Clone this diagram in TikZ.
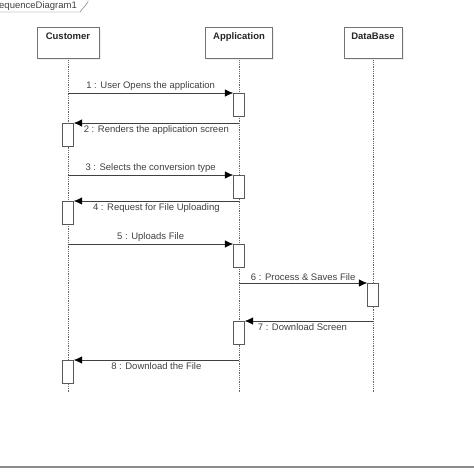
\documentclass[tikz,border=0pt]{standalone}
\usepackage{fontspec}
\setmainfont{Liberation Sans}
\usetikzlibrary{shadows,arrows.meta}
\begin{document}
\begin{tikzpicture}[x=1pt,y=-1pt,>={Latex[length=8.5pt,width=7.5pt,black]},
  actor/.style={draw=black!55,fill=white,font=\fontsize{9.5}{11}\selectfont\bfseries,text=black!85,
    inner xsep=2pt,inner ysep=5pt,text height=7pt,text depth=14pt,anchor=north,
    drop shadow={shadow xshift=1.5pt,shadow yshift=-1.5pt,fill=black!12}},
  lifeline/.style={densely dotted,draw=black!60,thick},
  act/.style={draw=black!65,fill=white,minimum width=11pt,minimum height=23pt,inner sep=0pt,anchor=north},
  msg/.style={->,draw=black!75,line width=0.6pt},
  lbl/.style={font=\fontsize{9.5}{11}\selectfont,text=black!75,inner sep=2.5pt}]
\useasboundingbox (0,0) rectangle (474,474);
\coordinate (F1) at (0,12);
\coordinate (F2) at (80,12);
\coordinate (F3) at (88,2);
\coordinate (F4) at (88,0);
\coordinate (B1) at (0,467);
\coordinate (B2) at (474,467);
\node[anchor=base west,inner sep=0pt,font=\fontsize{9.5}{11}\selectfont,text=black!75] (title) at (-1,8.5) {equenceDiagram1};
\draw[black!60] (F1) -- (F2) -- (F3) -- (F4);
\draw[black!45,line width=1.5pt] (B1) -- (B2);
\node[actor,minimum width=62pt] (cust) at (68,27) {Customer};
\node[actor,minimum width=67pt] (app) at (239,27) {Application};
\node[actor,minimum width=58pt] (db) at (373,27) {DataBase};
\coordinate (custEnd) at (68,392);
\coordinate (appEnd) at (239,392);
\coordinate (dbEnd) at (373,392);
\draw[lifeline] (cust.south) -- (custEnd);
\draw[lifeline] (app.south) -- (appEnd);
\draw[lifeline] (db.south) -- (dbEnd);
\node[act] (a1) at (239,93) {};
\node[act] (a2) at (68,123) {};
\node[act] (a3) at (239,175) {};
\node[act] (a4) at (68,201) {};
\node[act] (a5) at (239,244) {};
\node[act] (a6) at (373,283) {};
\node[act] (a7) at (239,321) {};
\node[act] (a8) at (68,360) {};
\draw[msg] (cust |- a1.north) -- node[lbl,above] {1 : User Opens the application} (a1.north west);
\draw[msg] (app |- a2.north) -- node[lbl,below] {2 : Renders the application screen} (a2.north east);
\draw[msg] (cust |- a3.north) -- node[lbl,above] {3 : Selects the conversion type} (a3.north west);
\draw[msg] (app |- a4.north) -- node[lbl,below] {4 : Request for File Uploading} (a4.north east);
\draw[msg] (cust |- a5.north) -- node[lbl,above] {5 : Uploads File} (a5.north west);
\draw[msg] (app |- a6.north) -- node[lbl,above] {6 : Process \& Saves File} (a6.north west);
\draw[msg] (db |- a7.north) -- node[lbl,below,pos=0.55] {7 : Download Screen} (a7.north east);
\draw[msg] (app |- a8.north) -- node[lbl,below] {8 : Download the File} (a8.north east);
\end{tikzpicture}
\end{document}
